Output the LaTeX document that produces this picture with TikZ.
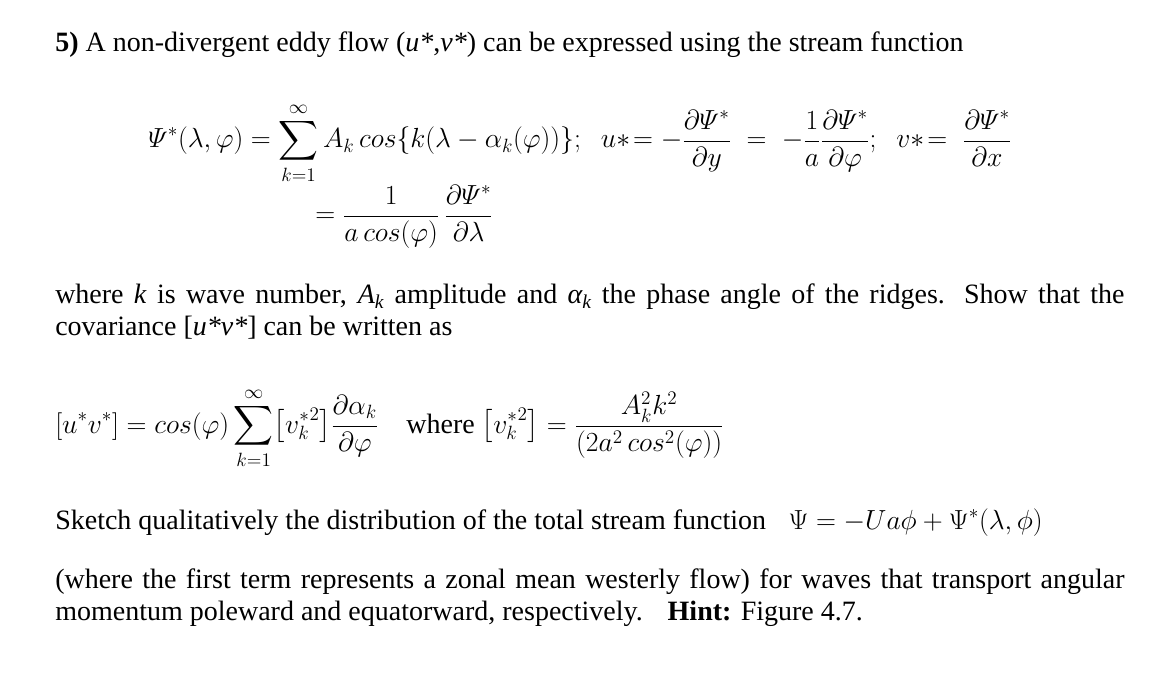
\documentclass[tikz,border=0pt]{standalone}
\usepackage{amsmath}
\usepackage{fontspec}
\setmainfont{Liberation Serif}
\hyphenpenalty=10000
\exhyphenpenalty=10000
\begin{document}
\begin{tikzpicture}[x=0.75pt,y=-0.75pt,
  txt/.style={anchor=base west,inner sep=0pt,font=\fontsize{21}{24}\selectfont},
  par/.style={txt,text width=802pt,align=justify,anchor=north west}]
\useasboundingbox[fill=white] (0,0) rectangle (1156,673);
\node[txt] (l1) at (55,52) {\textbf{5)} A non-divergent eddy flow (\textit{u*},\textit{v*}) can be expressed using the stream function};
\node[txt] (e1) at (148,148) {$\displaystyle \varPsi^{*}(\lambda,\varphi)=\sum_{k=1}^{\infty}A_k\,cos\{k(\lambda-\alpha_k(\varphi))\};\;\; u *\!=-\frac{\partial\varPsi^{*}}{\partial y}\;=\;-\frac{1}{a}\frac{\partial\varPsi^{*}}{\partial\varphi};\;\; v *\!=\;\frac{\partial\varPsi^{*}}{\partial x}$};
\node[txt] (e2) at (315,223) {$\displaystyle =\frac{1}{a\,cos(\varphi)}\,\frac{\partial\varPsi^{*}}{\partial\lambda}$};
\node[par] (p1) at (55,284) {where \textit{k} is wave number, \textit{A\textsubscript{k}} amplitude and \textit{α\textsubscript{k}} the phase angle of the ridges. Show that the covariance [\textit{u*v*}] can be written as};
\node[txt] (e3) at (55,433) {$\displaystyle [u^{*}v^{*}]=cos(\varphi)\sum_{k=1}^{\infty}\bigl[{v_k^{*}}^{2}\bigr]\frac{\partial\alpha_k}{\partial\varphi}$\quad where $\displaystyle \bigl[{v_k^{*}}^{2}\bigr]=\frac{A_k^2k^2}{(2a^2\,cos^2(\varphi))}$};
\node[txt] (l2) at (55,529) {Sketch qualitatively the distribution of the total stream function\;\; $\Psi=-Ua\phi+\Psi^{*}(\lambda,\phi)$};
\node[par] (p2) at (55,569) {(where the first term represents a zonal mean westerly flow) for waves that transport angular momentum poleward and equatorward, respectively.\;\; \textbf{Hint:} Figure 4.7.};
\end{tikzpicture}
\end{document}
